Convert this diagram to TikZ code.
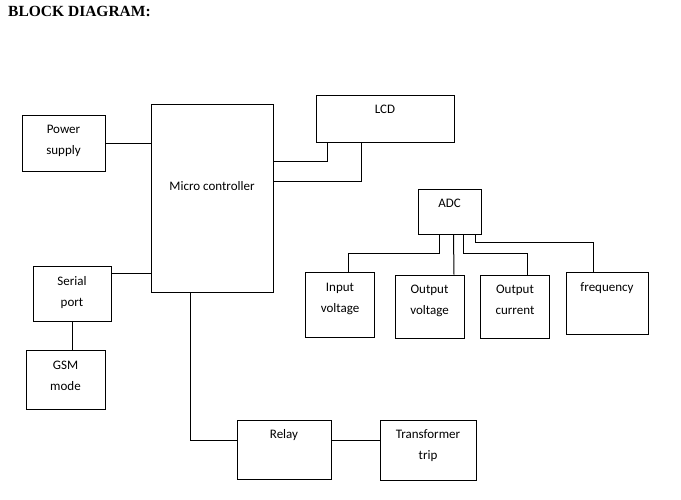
\documentclass[tikz,border=0pt]{standalone}
\usepackage{fontspec}
\setmainfont{Carlito}
\newfontfamily\titlefont{Liberation Serif}
\usetikzlibrary{calc,positioning}
\tikzstyle{block} = [rectangle, draw=black, line width=1pt, inner sep=0, minimum width=#1]
\tikzstyle{txt}   = [align=center, font=\fontsize{13}{21}\selectfont, anchor=north, inner sep=0]
\tikzstyle{wire}  = [line width=1pt]

\begin{document}
\begin{tikzpicture}[x=1pt, y=-1pt]
        \useasboundingbox (0,0) rectangle (681,499);
        \node[anchor=west, inner sep=0, font=\titlefont\bfseries\fontsize{15.5}{17}\selectfont] (title) at (8,11) {BLOCK DIAGRAM:};

        \node (power) [block=83, minimum height=56] at (63.5,143) {};
        \node (micro) [block=122, minimum height=188] at (212,198) {};
        \node (lcd) [block=138, minimum height=47] at (385,118.5) {};
        \node (adc) [block=63, minimum height=45] at (449.5,211.5) {};
        \node (inv) [block=69, minimum height=65] at (340,304.5) {};
        \node (outv) [block=69, minimum height=63] at (429.5,306.5) {};
        \node (outc) [block=69, minimum height=63] at (515,306.5) {};
        \node (freq) [block=82, minimum height=62] at (607,303) {};
        \node (serial) [block=78, minimum height=55] at (72,293.5) {};
        \node (gsm) [block=79, minimum height=59] at (65.5,379.5) {};
        \node (relay) [block=94, minimum height=59] at (284,449.5) {};
        \node (trafo) [block=96, minimum height=60] at (428,450) {};

        \node[txt] at ([yshift=-10]power.north) {Power\\supply};
        \node[txt] at ([yshift=-78]micro.north) {Micro controller};
        \node[txt] at ([yshift=-10]lcd.north) {LCD};
        \node[txt] at ([yshift=-10]adc.north) {ADC};
        \node[txt] at ([yshift=-11]inv.north) {Input\\voltage};
        \node[txt] at ([yshift=-10]outv.north) {Output\\voltage};
        \node[txt] at ([yshift=-10]outc.north) {Output\\current};
        \node[txt] at ([yshift=-11]freq.north) {frequency};
        \node[txt] at ([yshift=-11]serial.north) {Serial\\port};
        \node[txt] at ([yshift=-11]gsm.north) {GSM\\mode};
        \node[txt] at ([yshift=-10]relay.north) {Relay};
        \node[txt] at ([yshift=-10]trafo.north) {Transformer\\trip};

        \draw [wire] (power.east) -- (power.east -| micro.west);
        \draw [wire] ($(micro.north east)+(0,58)$) -| ($(lcd.south west)+(12,0)$);
        \draw [wire] ($(micro.north east)+(0,78)$) -| ($(lcd.south west)+(46,0)$);
        \draw [wire] ($(adc.south west)+(22,0)$) |- (348,253) -- (inv.north -| 348,0);
        \draw [wire] ($(adc.south west)+(36,0)$) -- (outv.north -| 454,0);
        \draw [wire] ($(adc.south west)+(46,0)$) |- (527,253) -- (outc.north -| 527,0);
        \draw [wire] ($(adc.south west)+(58,0)$) |- (593,242) -- (freq.north -| 593,0);
        \draw [wire] ($(serial.north east)+(0,8)$) -- ($(serial.north east)+(40,8)$);
        \draw [wire] (serial.south) -- (serial.south |- gsm.north);
        \draw [wire] ($(micro.south west)+(40,0)$) |- (relay.west |- 0,440);
        \draw [wire] (relay.east |- 0,440) -- (trafo.west |- 0,440);
\end{tikzpicture}
\end{document}
